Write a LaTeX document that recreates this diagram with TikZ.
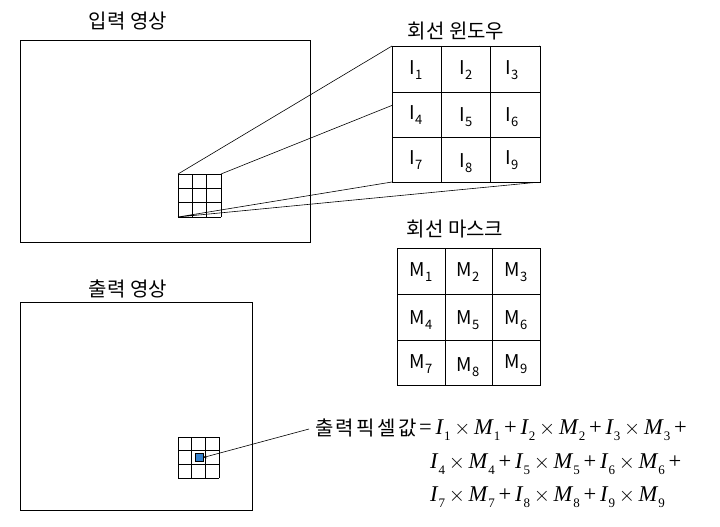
\documentclass[tikz,border=0pt]{standalone}
\usepackage{fontspec}
\newfontfamily\kr{Noto Sans CJK KR}
\newfontfamily\krsp[LetterSpace=12]{Noto Sans CJK KR}
\newfontfamily\tms{Liberation Serif}
\newcommand{\vv}[2]{\textit{#1}\raisebox{-0.25em}{\fontsize{13}{13}\selectfont#2}}
\newcommand{\tx}{\,$\times$\,}
\newcommand{\pl}{\,+\,}
\begin{document}
\begin{tikzpicture}[x=1pt,y=-1pt,
  ln/.style={draw=black,line width=0.8pt},
  thin/.style={draw=black,line width=0.6pt},
  ttl/.style={font=\kr\fontsize{20}{22}\selectfont,inner sep=0},
  cell/.style={font=\kr\fontsize{19}{21}\selectfont,inner sep=0},
  eq/.style={font=\tms\fontsize{22.5}{25}\selectfont,inner sep=0,anchor=west}]
\useasboundingbox (0,0) rectangle (720,527);
% input image
\draw[ln] (20,40) rectangle (310,242);
\node[ttl] (tin) at (128,21) {입력 영상};
\coordinate (sTL) at (178,174); \coordinate (sTR) at (221,174);
\coordinate (sBL) at (178,217);
\coordinate (wTL) at (392,46); \coordinate (wTR) at (540,46);
\coordinate (wBL) at (392,182); \coordinate (wBR) at (540,182);
\draw[thin] (sTL)--(wTL) (sTR)--(wTR) (sBL)--(wBL) (sBL)--(wBR);
\foreach \i in {0,1,2,3} {
  \draw[thin] (178+14.33*\i,174)--(178+14.33*\i,217);
  \draw[thin] (178,174+14.33*\i)--(221,174+14.33*\i);}
% window
\fill[white] (wTL) rectangle (wBR);
\draw[ln] (392,46) rectangle (540,182);
\draw[ln] (441,46)--(441,182) (490,46)--(490,182) (392,92)--(540,92) (392,137)--(540,137);
\node[ttl] (twin) at (456,31) {회선 윈도우};
\foreach \t/\x/\y in {1/416/70,2/466/70,3/512/70,4/416/115,5/466/117,6/512/117,7/416/160,8/466/163,9/512/160}
  \node[cell] (i\t) at (\x,\y) {I\raisebox{-0.25em}{\fontsize{13}{13}\selectfont\t}};
% mask
\draw[ln] (397,248) rectangle (540,385);
\draw[ln] (445,248)--(445,385) (492,248)--(492,385) (397,294)--(540,294) (397,340)--(540,340);
\node[ttl] (tmask) at (455,229) {회선 마스크};
\foreach \t/\x/\y in {1/421/272,2/468/272,3/516/272,4/421/320,5/468/320,6/516/320,7/421/364,8/468/367,9/516/364}
  \node[cell] (m\t) at (\x,\y) {M\raisebox{-0.25em}{\fontsize{13}{13}\selectfont\t}};
% output image
\draw[ln] (20,302) rectangle (252,510);
\node[ttl] (tout) at (128,289) {출력 영상};
\foreach \i in {0,1,2,3} {
  \draw[thin] (178+13.67*\i,437)--(178+13.67*\i,478);
  \draw[thin] (178,437+13.67*\i)--(219,437+13.67*\i);}
\node[draw=black,fill=blue!50!cyan!60!gray,minimum size=8pt,inner sep=0,line width=0.5pt] (px) at (199,457.5) {};
% equation
\node[inner sep=0,anchor=east,font=\krsp\fontsize{20}{22}\selectfont] (lbl) at (417,428) {출력픽셀값};
\coordinate (a0) at ([xshift=-6pt,yshift=-1pt]lbl.west);
\draw[thin,-stealth] (a0) -- (px.east);
\node[eq] (e1) at (419,430) {=\,\vv{I}{1}\tx\vv{M}{1}\pl\vv{I}{2}\tx\vv{M}{2}\pl\vv{I}{3}\tx\vv{M}{3}\pl};
\node[eq] (e2) at (430,464) {\vv{I}{4}\tx\vv{M}{4}\pl\vv{I}{5}\tx\vv{M}{5}\pl\vv{I}{6}\tx\vv{M}{6}\pl};
\node[eq] (e3) at (430,497) {\vv{I}{7}\tx\vv{M}{7}\pl\vv{I}{8}\tx\vv{M}{8}\pl\vv{I}{9}\tx\vv{M}{9}};
\end{tikzpicture}
\end{document}
